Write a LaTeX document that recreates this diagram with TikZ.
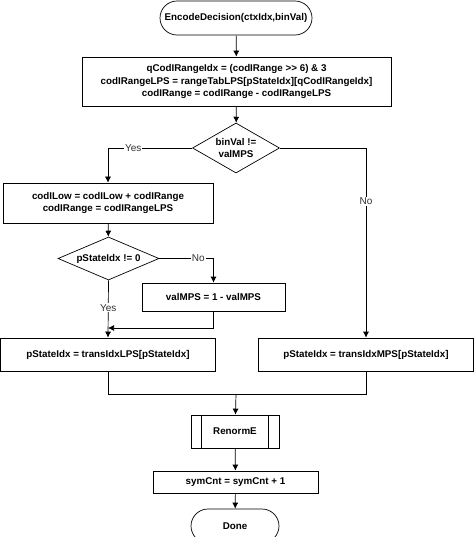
\documentclass[tikz,border=0pt]{standalone}
\usepackage{fontspec}
\setmainfont{Liberation Sans}
\usetikzlibrary{shapes.geometric,arrows.meta,positioning}
\begin{document}
\begin{tikzpicture}[x=1pt,y=-1pt,
  base/.style={draw,line width=0.7pt,inner sep=0pt,align=center,font=\fontsize{9.8}{12.3}\selectfont\bfseries},
  term/.style={base,rounded corners=17pt,minimum width=152pt,minimum height=34pt},
  proc/.style={base,rectangle},
  dec/.style={base,diamond},
  conn/.style={line width=0.7pt,-{Latex[length=6pt,width=6pt]}},
  plain/.style={line width=0.7pt},
  lbl/.style={fill=white,inner sep=1pt,font=\fontsize{10}{11}\selectfont,text=black!80}
]
\useasboundingbox (0,0) rectangle (474,537);
\clip (0,0) rectangle (474,537);
\node[term] (start) at (236,18) {EncodeDecision(ctxIdx,binVal)};
\node[proc,minimum width=309pt,minimum height=49pt] (b1) at (236.5,81.5)
  {qCodIRangeIdx = (codIRange {>}{>} 6) \& 3\\codIRangeLPS = rangeTabLPS[pStateIdx][qCodIRangeIdx]\\codIRange = codIRange - codIRangeLPS};
\node[dec,minimum width=87pt,minimum height=50pt,aspect=1.74] (d1) at (236,148) {binVal !=\\valMPS};
\node[proc,minimum width=210pt,minimum height=40pt] (b2) at (108,203) {codILow = codILow + codIRange\\codIRange = codIRangeLPS};
\node[dec,minimum width=101pt,minimum height=43pt,aspect=2.35] (d2) at (108.5,258.5) {pStateIdx != 0};
\node[proc,minimum width=143pt,minimum height=28pt] (b3) at (213.5,297) {valMPS = 1 - valMPS};
\node[proc,minimum width=215pt,minimum height=33pt] (b5) at (108,354.5) {pStateIdx = transIdxLPS[pStateIdx]};
\node[proc,minimum width=215pt,minimum height=33pt] (b4) at (366,354.5) {pStateIdx = transIdxMPS[pStateIdx]};
\node[proc,minimum width=88pt,minimum height=33pt] (ren) at (235,431.5) {RenormE};
\draw[line width=0.7pt] ([xshift=11pt]ren.north west) -- ([xshift=11pt]ren.south west)
  ([xshift=-11pt]ren.north east) -- ([xshift=-11pt]ren.south east);
\node[proc,minimum width=165pt,minimum height=22pt] (sym) at (235.5,482) {symCnt = symCnt + 1};
\node[term,minimum width=88pt] (done) at (235,526) {Done};
\coordinate (m) at (108,328);
\coordinate (j) at (236,394);
\draw[conn] (start) -- (b1);
\draw[conn] (b1) -- (d1);
\draw[conn] (d1.west) -| node[lbl,pos=0.35] {Yes} (b2.north);
\draw[conn] (d1.east) -| node[lbl,pos=0.64] {No} (b4.north);
\draw[conn] (b2) -- (d2);
\draw[conn] (d2.east) -| node[lbl,pos=0.36] {No} (b3.north);
\draw[conn] (d2.south) -- node[lbl,pos=0.48] {Yes} (b5.north);
\draw[conn] (b3.south) |- (m);
\draw[plain] (b5.south) |- (j);
\draw[plain] (b4.south) |- (j);
\draw[conn] (j) -- (ren);
\draw[conn] (ren) -- (sym);
\draw[conn] (sym) -- (done);
\end{tikzpicture}
\end{document}
